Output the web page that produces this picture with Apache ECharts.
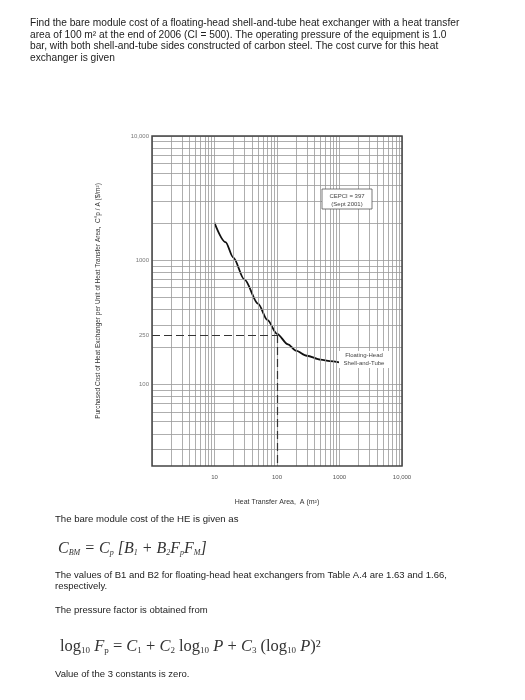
<!DOCTYPE html>
<html>
<head>
<meta charset="utf-8">
<script src="https://cdn.jsdelivr.net/npm/echarts@6/dist/echarts.min.js"></script>
<style>html,body{margin:0;padding:0;background:#fff}#main{width:525px;height:700px}</style>
</head>
<body>
<div id="main"></div>
<script>
// cost curve
var areaValues = [10, 15, 20, 30, 50, 70, 100, 150, 200, 300, 500, 700, 1000];
var costValues = [2000, 1400, 1050, 700, 445, 330, 255, 210, 187, 170, 158, 154, 150];
var xTickLabels = {10: '10', 100: '100', 1000: '1000', 10000: '10,000'};
var yTickLabels = {100: '100', 250: '250', 1000: '1000', 10000: '10,000'};
var readArea = 100, readCost = 250;

// grid lines of the log paper
var xGrid = [], yGrid = [];
[1, 10, 100, 1000].forEach(function (d) { for (var i = 1; i <= 9; i++) xGrid.push(i * d); });
xGrid.push(10000);
[10, 100, 1000].forEach(function (d) { for (var i = 1; i <= 9; i++) if (i * d >= 22) yGrid.push(i * d); });
yGrid.push(10000);

var chart = echarts.init(document.getElementById('main'));
var txt = '#222';
var body = 'Liberation Sans';
var serif = 'Liberation Serif';

var gridLines = [];
xGrid.forEach(function (v) { gridLines.push({xAxis: v}); });
yGrid.forEach(function (v) { gridLines.push({yAxis: v}); });

var option = {
    animation: false,
    grid: {left: 152, right: 123, top: 136, bottom: 234},
    xAxis: {
        type: 'log', min: 1, max: 10000, logBase: 10,
        axisLine: {show: false}, axisTick: {show: false}, splitLine: {show: false},
        axisLabel: {fontSize: 6, color: '#555', fontFamily: body, margin: 8,
            formatter: function (v) { return xTickLabels[Math.round(v)] || ''; }},
        name: 'Heat Transfer Area,  A (m²)', nameLocation: 'middle', nameGap: 33,
        nameTextStyle: {fontSize: 7, color: '#333', fontFamily: body}
    },
    yAxis: {
        type: 'log', min: 22, max: 10000, logBase: 10,
        axisLine: {show: false}, axisTick: {show: false}, splitLine: {show: false},
        axisLabel: {show: false},
        name: 'Purchased Cost of Heat Exchanger per Unit of Heat Transfer Area,  C°p / A ($/m²)',
        nameLocation: 'middle', nameGap: 50,
        nameTextStyle: {fontSize: 6.5, color: '#333', fontFamily: body}
    },
    series: [
        {
            type: 'line', data: [], silent: true,
            markLine: {symbol: 'none', silent: true, label: {show: false},
                lineStyle: {color: '#999', width: 0.8, type: 'solid'}, data: gridLines}
        },
        {
            type: 'scatter', symbolSize: 0, silent: true,
            data: Object.keys(yTickLabels).map(function (k) { return [1, +k]; }),
            label: {show: true, position: 'left', distance: 3, fontSize: 6, color: '#555', fontFamily: body,
                formatter: function (p) { return yTickLabels[p.value[1]]; }}
        },
        {
            type: 'line', smooth: 0.3, smoothMonotone: 'x', symbol: 'none',
            lineStyle: {color: '#111', width: 1.8},
            data: areaValues.map(function (a, i) { return [a, costValues[i]]; }),
            markLine: {symbol: 'none', silent: true, label: {show: false},
                lineStyle: {color: '#333', width: 1.2, type: [8, 4]},
                data: [
                    [{coord: [1, readCost]}, {coord: [readArea, readCost]}],
                    [{coord: [readArea, readCost]}, {coord: [readArea, 22]}]
                ]}
        }
    ],
    graphic: [
        {type: 'rect', shape: {x: 152, y: 136, width: 250, height: 330}, style: {fill: 'none', stroke: '#444', lineWidth: 1.5}, z: 10},
        {type: 'rect', shape: {x: 322, y: 189, width: 50, height: 20}, style: {fill: '#fff', stroke: '#555', lineWidth: 0.8}, z: 11},
        {type: 'text', x: 347, y: 192, z: 12, style: {text: 'CEPCI = 397\n(Sept 2001)', align: 'center', fontSize: 6, lineHeight: 8, fill: '#444', fontFamily: body}},
        {type: 'rect', shape: {x: 339, y: 351, width: 50, height: 17}, style: {fill: '#fff'}, z: 11},
        {type: 'text', x: 364, y: 352, z: 12, style: {text: 'Floating-Head\nShell-and-Tube', align: 'center', fontSize: 6, lineHeight: 7.5, fill: '#444', fontFamily: body}},

        {type: 'text', left: 30, top: 17, style: {
            text: 'Find the bare module cost of a floating-head shell-and-tube heat exchanger with a heat transfer\narea of 100 m² at the end of 2006 (CI = 500). The operating pressure of the equipment is 1.0\nbar, with both shell-and-tube sides constructed of carbon steel. The cost curve for this heat\nexchanger is given',
            fontSize: 10.2, lineHeight: 11.8, fill: txt, fontFamily: body}},
        {type: 'text', left: 55, top: 514, style: {text: 'The bare module cost of the HE is given as', fontSize: 9.6, fill: txt, fontFamily: body}},
        {type: 'text', left: 58, top: 541, style: {
            text: '{m|C}{s|BM}{m| = C}{s|p}{m| [B}{s|1}{m| + B}{s|2}{m|F}{s|p}{m|F}{s|M}{m|]}',
            rich: {m: {fontSize: 16, fontFamily: serif, fill: '#333', fontStyle: 'italic'},
                   s: {fontSize: 8, fontFamily: serif, fill: '#333', fontStyle: 'italic', padding: [8, 0, 0, 0]}}}},
        {type: 'text', left: 55, top: 570, style: {
            text: 'The values of B1 and B2 for floating-head heat exchangers from Table A.4 are 1.63 and 1.66,\nrespectively.',
            fontSize: 9.5, lineHeight: 11, fill: txt, fontFamily: body}},
        {type: 'text', left: 55, top: 605, style: {text: 'The pressure factor is obtained from', fontSize: 9.5, fill: txt, fontFamily: body}},
        {type: 'text', left: 60, top: 638, style: {
            text: '{m|log}{s|10}{i| F}{s|p}{m| = }{i|C}{s|1}{m| + }{i|C}{s|2}{m| log}{s|10}{i| P}{m| + }{i|C}{s|3}{m| (log}{s|10}{i| P}{m|)²}',
            rich: {m: {fontSize: 16.5, fontFamily: serif, fill: '#333'},
                   i: {fontSize: 16.5, fontFamily: serif, fill: '#333', fontStyle: 'italic'},
                   s: {fontSize: 9, fontFamily: serif, fill: '#333', padding: [8, 0, 0, 0]}}}},
        {type: 'text', left: 55, top: 669, style: {text: 'Value of the 3 constants is zero.', fontSize: 9.5, fill: txt, fontFamily: body}}
    ]
};
chart.setOption(option);
</script>
</body>
</html>
